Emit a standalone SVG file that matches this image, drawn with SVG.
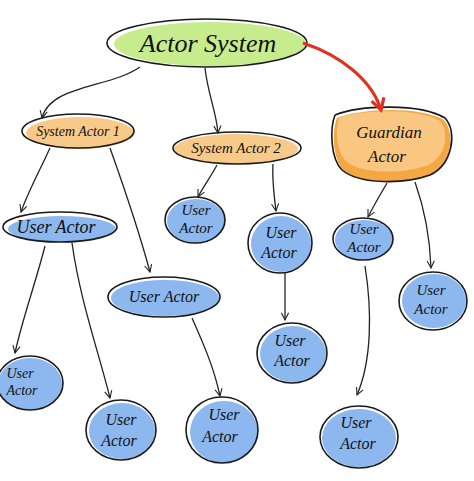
<svg xmlns="http://www.w3.org/2000/svg" width="474" height="481" viewBox="0 0 474 481">
<defs>
<marker id="ah" viewBox="0 0 10 10" refX="9" refY="5" markerWidth="9" markerHeight="9" markerUnits="userSpaceOnUse" orient="auto">
<path d="M1,1 L9,5 L1,9" fill="none" stroke="#222" stroke-width="1.2"/>
</marker>
<marker id="ahr" viewBox="0 0 10 10" refX="8" refY="5" markerWidth="16" markerHeight="16" markerUnits="userSpaceOnUse" orient="auto">
<path d="M1,1 L8,5 L1,9" fill="none" stroke="#e0301e" stroke-width="2"/>
</marker>
</defs>
<style>
.ol{fill:none;stroke:#1a1a1a;stroke-width:1.6}
.gr{fill:#c6ec8e}
.or{fill:#f8ca8a}
.bl{fill:#8cb8ef}
.t{font-family:"Liberation Serif",serif;font-style:italic;fill:#111;text-anchor:middle}
.c{fill:none;stroke:#222;stroke-width:1.3}
</style>
<rect width="474" height="481" fill="#fff"/>

<g id="actor-system">
<ellipse class="gr" cx="210" cy="44" rx="96" ry="22"/>
<ellipse class="ol" cx="207" cy="43" rx="100" ry="24"/>
<text class="t" x="208" y="52" font-size="26">Actor System</text>
</g>

<g id="system-actor-1">
<ellipse class="or" cx="80" cy="133" rx="54" ry="16"/>
<ellipse class="ol" cx="78" cy="131" rx="56" ry="17"/>
<text class="t" x="78" y="136" font-size="14">System Actor 1</text>
</g>

<g id="system-actor-2">
<ellipse class="or" cx="236" cy="149" rx="62" ry="15"/>
<ellipse class="ol" cx="237" cy="148" rx="64" ry="16"/>
<text class="t" x="236" y="153" font-size="15">System Actor 2</text>
</g>

<g id="guardian-actor">
<path fill="#f3a843" d="M337,118 C362,108 420,106 444,120 C456,134 451,166 429,176 C404,185 361,185 344,171 C332,159 332,130 337,118 Z"/>
<path fill="#f9c781" d="M339,118 C364,109 418,108 440,121 C450,133 446,158 426,166 C402,174 362,174 347,162 C336,152 335,130 339,118 Z"/>
<path class="ol" d="M335,115 C360,105 420,103 445,118 C458,132 452,165 430,175 C405,184 360,185 342,170 C330,158 330,128 335,115"/>
<text class="t" x="389" y="138" font-size="17">Guardian</text>
<text class="t" x="387" y="162" font-size="17">Actor</text>
</g>

<g id="user-actor-1">
<ellipse class="bl" cx="62" cy="229" rx="54" ry="13"/>
<ellipse class="ol" cx="60" cy="227" rx="57" ry="15"/>
<text class="t" x="56" y="233" font-size="18">User Actor</text>
</g>

<g id="user-actor-2">
<ellipse class="bl" cx="196" cy="221" rx="29" ry="22"/>
<ellipse class="ol" cx="195" cy="220" rx="30" ry="23"/>
<text class="t" x="196" y="215" font-size="15">User</text>
<text class="t" x="196" y="233" font-size="15">Actor</text>
</g>

<g id="user-actor-3">
<ellipse class="bl" cx="281" cy="244" rx="30" ry="28"/>
<ellipse class="ol" cx="280" cy="243" rx="32" ry="30"/>
<text class="t" x="281" y="238" font-size="16">User</text>
<text class="t" x="279" y="258" font-size="16">Actor</text>
</g>

<g id="user-actor-4">
<ellipse class="bl" cx="364" cy="240" rx="29" ry="20"/>
<ellipse class="ol" cx="363" cy="239" rx="30" ry="21"/>
<text class="t" x="364" y="234" font-size="15">User</text>
<text class="t" x="364" y="252" font-size="15">Actor</text>
</g>

<g id="user-actor-5">
<ellipse class="bl" cx="434" cy="301" rx="32" ry="27"/>
<ellipse class="ol" cx="433" cy="301" rx="34" ry="29"/>
<text class="t" x="431" y="295" font-size="15">User</text>
<text class="t" x="431" y="314" font-size="15">Actor</text>
</g>

<g id="user-actor-6">
<ellipse class="bl" cx="165" cy="298" rx="54" ry="18"/>
<ellipse class="ol" cx="164" cy="297" rx="56" ry="20"/>
<text class="t" x="164" y="302" font-size="16">User Actor</text>
</g>

<g id="user-actor-7">
<ellipse class="bl" cx="30" cy="384" rx="32" ry="26"/>
<ellipse class="ol" cx="30" cy="383" rx="33" ry="27"/>
<text class="t" x="20" y="378" font-size="14">User</text>
<text class="t" x="22" y="395" font-size="14">Actor</text>
</g>

<g id="user-actor-8">
<ellipse class="bl" cx="122" cy="431" rx="33" ry="28"/>
<ellipse class="ol" cx="121" cy="430" rx="35" ry="30"/>
<text class="t" x="121" y="425" font-size="16">User</text>
<text class="t" x="119" y="446" font-size="16">Actor</text>
</g>

<g id="user-actor-9">
<ellipse class="bl" cx="224" cy="432" rx="34" ry="31"/>
<ellipse class="ol" cx="222" cy="430" rx="36" ry="33"/>
<text class="t" x="224" y="420" font-size="16">User</text>
<text class="t" x="220" y="442" font-size="16">Actor</text>
</g>

<g id="user-actor-10">
<ellipse class="bl" cx="293" cy="354" rx="33" ry="28"/>
<ellipse class="ol" cx="292" cy="353" rx="35" ry="30"/>
<text class="t" x="290" y="346" font-size="16">User</text>
<text class="t" x="292" y="366" font-size="16">Actor</text>
</g>

<g id="user-actor-11">
<ellipse class="bl" cx="359" cy="438" rx="37" ry="29"/>
<ellipse class="ol" cx="359" cy="437" rx="39" ry="31"/>
<text class="t" x="356" y="428" font-size="16">User</text>
<text class="t" x="358" y="449" font-size="16">Actor</text>
</g>

<g id="connectors">
<path class="c" marker-end="url(#ah)" d="M140,67 C110,88 50,85 42,118"/>
<path class="c" marker-end="url(#ah)" d="M205,68 C208,95 216,110 218,133"/>
<path fill="none" stroke="#e0301e" stroke-width="3" marker-end="url(#ahr)" d="M303,43 C340,55 372,80 381,110"/>
<path class="c" marker-end="url(#ah)" d="M50,148 C40,170 28,192 21,212"/>
<path class="c" marker-end="url(#ah)" d="M110,148 C125,190 140,235 150,272"/>
<path class="c" marker-end="url(#ah)" d="M45,246 C35,285 22,320 15,353"/>
<path class="c" marker-end="url(#ah)" d="M72,243 C80,300 98,350 110,398"/>
<path class="c" marker-end="url(#ah)" d="M192,318 C204,345 214,368 220,396"/>
<path class="c" marker-end="url(#ah)" d="M217,165 C210,178 203,187 198,197"/>
<path class="c" marker-end="url(#ah)" d="M273,164 C272,180 274,195 276,211"/>
<path class="c" marker-end="url(#ah)" d="M285,273 C285,290 285,305 285,320"/>
<path class="c" marker-end="url(#ah)" d="M387,183 C380,195 374,205 368,217"/>
<path class="c" marker-end="url(#ah)" d="M415,182 C425,210 430,240 431,268"/>
<path class="c" marker-end="url(#ah)" d="M365,266 C372,310 372,360 357,395"/>
</g>
</svg>
